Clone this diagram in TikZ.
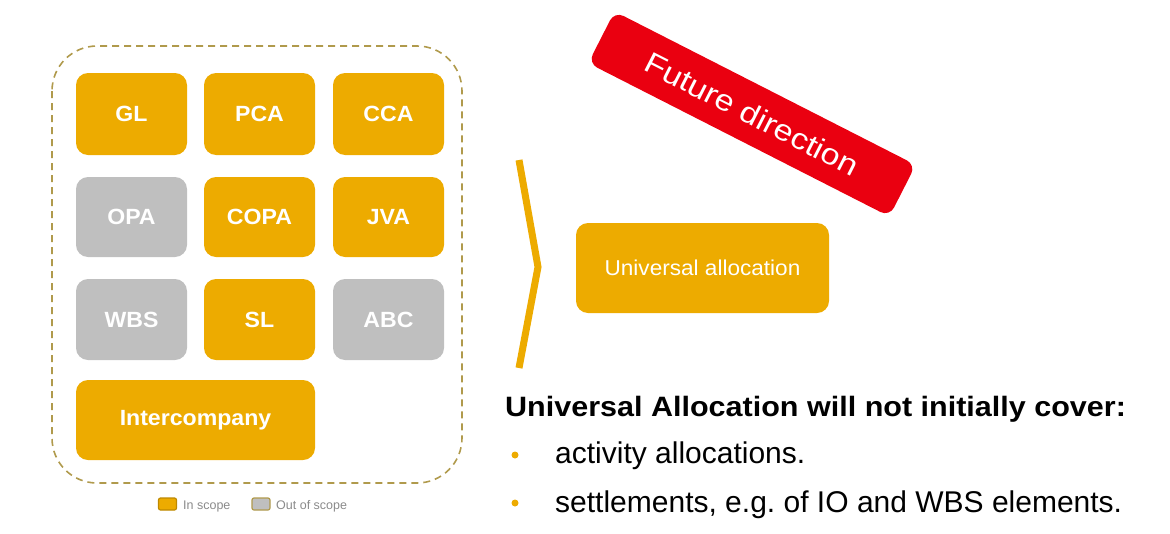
\documentclass[tikz,border=0pt]{standalone}
\usepackage{fontspec}
\setmainfont{Liberation Sans}
\newfontfamily\stretchA[FakeStretch=1.09]{Liberation Sans}
\newfontfamily\stretchB[FakeStretch=1.05]{Liberation Sans}
\newfontfamily\stretchC[FakeStretch=1.15]{Liberation Sans}
\frenchspacing
\definecolor{sapor}{HTML}{EDAB00}
\definecolor{sapgray}{HTML}{BFBFBF}
\definecolor{sapred}{HTML}{EA0010}
\definecolor{dashc}{HTML}{B09A4C}
\definecolor{legtxt}{HTML}{8A8A8A}
\tikzset{
  tile/.style={rectangle, rounded corners=12pt, inner sep=0pt, text=white,
    font=\stretchB\fontsize{22}{26}\selectfont\bfseries},
  intile/.style={tile, fill=sapor},
  outtile/.style={tile, fill=sapgray},
  legbox/.style={rectangle, rounded corners=2pt, line width=1.2pt, inner sep=0pt, minimum width=18pt, minimum height=12pt},
  legtext/.style={anchor=base west, inner sep=0pt, text=legtxt, font=\fontsize{12.5}{14}\selectfont},
  bodytext/.style={anchor=base west, inner sep=0pt, font=\fontsize{30}{34}\selectfont},
  bulletdot/.style={circle, fill=sapor, inner sep=0pt, minimum size=7pt}
}
\begin{document}
\begin{tikzpicture}[x=1pt,y=-1pt]
\useasboundingbox (0,0) rectangle (1170,533);
% container
\draw[dashc, line width=1.6pt, dash pattern=on 7pt off 5pt, rounded corners=45pt] (52,46) rectangle (462,483);
% tiles
\node[intile, minimum width=111pt, minimum height=82pt] (gl) at (131.5,114) {GL};
\node[intile, minimum width=111pt, minimum height=82pt] (pca) at (259.5,114) {PCA};
\node[intile, minimum width=111pt, minimum height=82pt] (cca) at (388.5,114) {CCA};
\node[outtile, minimum width=111pt, minimum height=80pt] (opa) at (131.5,217) {OPA};
\node[intile, minimum width=111pt, minimum height=80pt] (copa) at (259.5,217) {COPA};
\node[intile, minimum width=111pt, minimum height=80pt] (jva) at (388.5,217) {JVA};
\node[outtile, minimum width=111pt, minimum height=81pt] (wbs) at (131.5,319.5) {WBS};
\node[intile, minimum width=111pt, minimum height=81pt] (sl) at (259.5,319.5) {SL};
\node[outtile, minimum width=111pt, minimum height=81pt] (abc) at (388.5,319.5) {ABC};
\node[intile, minimum width=239pt, minimum height=80pt] (ic) at (195.5,420) {Intercompany};
% legend
\node[legbox, fill=sapor, draw=sapor!80!black] (lin) at (167.5,504) {};
\node[legtext] (linT) at (183,509) {In scope};
\node[legbox, fill=sapgray, draw=dashc] (lout) at (261,504) {};
\node[legtext] (loutT) at (276,509) {Out of scope};
% chevron
\draw[sapor, line width=7pt, line join=miter] (519,160) -- (538,267) -- (519,368);
% universal allocation
\node[tile, fill=sapor, font=\stretchB\fontsize{21.5}{24}\selectfont, minimum width=253pt, minimum height=90pt] (ua) at (702.5,268) {Universal allocation};
% future direction
\node[rectangle, rounded corners=10pt, fill=sapred, text=white, rotate=-27,
  minimum width=338pt, minimum height=58pt, inner sep=0pt,
  font=\stretchC\fontsize{29.5}{34}\selectfont] (fd) at (752,114) {Future direction};
% text
\node[bodytext, font=\stretchA\fontsize{28}{32}\selectfont\bfseries] (head) at (505,416) {Universal Allocation will not initially cover:};
\node[bulletdot] (b1) at (515,455) {};
\node[bodytext] (t1) at (555,463) {activity allocations.};
\node[bulletdot] (b2) at (515,503) {};
\node[bodytext] (t2) at (555,512) {settlements, e.g. of IO and WBS elements.};
\end{tikzpicture}
\end{document}
